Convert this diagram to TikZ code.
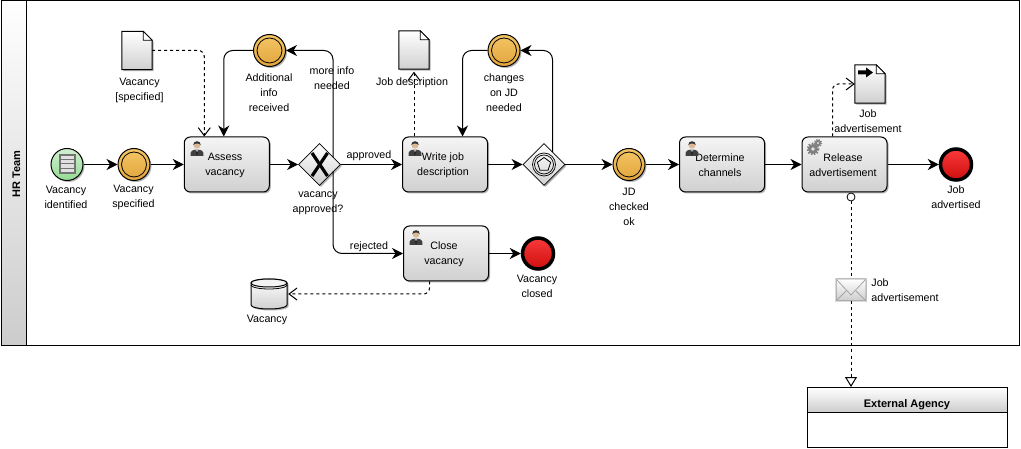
\documentclass[tikz,border=0pt]{standalone}
\usepackage{fontspec}
\setmainfont{Liberation Sans}
\usetikzlibrary{shapes.geometric,arrows.meta,shadows}

\definecolor{boxgray}{HTML}{D0D0D0}
\definecolor{hdrgray}{HTML}{CCCCCC}
\definecolor{catchtop}{HTML}{F4C666}
\definecolor{catchbot}{HTML}{E2A63C}
\definecolor{greentop}{HTML}{D2EFD2}
\definecolor{greenbot}{HTML}{92DC92}
\definecolor{redtop}{HTML}{F93A3A}
\definecolor{redbot}{HTML}{CF0E0E}

\tikzset{
  lbl/.style={align=center,inner sep=0pt,yshift=-.7pt,font=\fontsize{10.7}{15}\selectfont},
  softshadow/.style={drop shadow={shadow xshift=1.5pt,shadow yshift=-1.5pt,fill=black,opacity=.3}},
  task/.style={draw,line width=1pt,rounded corners=6pt,minimum width=85pt,minimum height=55pt,inner sep=0pt,
    top color=white!96!black,bottom color=boxgray,softshadow},
  catchev/.style={circle,draw,line width=1pt,minimum size=32pt,inner sep=0pt,top color=catchtop,bottom color=catchbot,softshadow},
  catchin/.style={circle,draw,line width=.8pt,minimum size=25pt,inner sep=0pt},
  startev/.style={circle,draw,line width=1pt,minimum size=32pt,inner sep=0pt,top color=greentop,bottom color=greenbot,softshadow},
  endev/.style={circle,draw,line width=3.5pt,minimum size=31pt,inner sep=0pt,top color=redtop,bottom color=redbot,softshadow},
  gate/.style={diamond,draw,line width=.8pt,minimum width=42pt,minimum height=42pt,inner sep=0pt,
    top color=white,bottom color=boxgray,softshadow},
  docbox/.style={minimum width=30pt,minimum height=38pt,inner sep=0pt},
  seq/.style={line width=1pt,-{Stealth[length=11pt,width=11pt,inset=3.5pt]},rounded corners=9pt},
  assoc/.style={line width=1pt,dash pattern=on 3pt off 3pt,-{Straight Barb[length=8pt,width=12pt]},rounded corners=6pt},
  msgline/.style={line width=1pt,dash pattern=on 3pt off 3pt},
}

% document with a folded corner
\newcommand{\docicon}[3]{
  \node[docbox] (#1) at (#2,#3) {};
  \draw[line width=1pt,top color=white,bottom color=boxgray,softshadow]
    (#1.north west) -- ([xshift=-9pt]#1.north east) -- ([yshift=-9pt]#1.north east)
    -- (#1.south east) -- (#1.south west) -- cycle;
  \draw[line width=.8pt,fill=white] ([xshift=-9pt]#1.north east) |- ([yshift=-9pt]#1.north east) -- cycle;
}
% event with a second ring
\newcommand{\catchicon}[3]{
  \node[catchev] (#1) at (#2,#3) {};
  \node[catchin] (#1in) at (#1) {};
}
% person in the corner of a task
\newcommand{\usericon}[2]{
  \begin{scope}[shift={(#1,#2)}]
    \fill[black!75] (-6.5,8) .. controls (-7,2) and (-4,2) .. (0,1.5) .. controls (4,2) and (7,2) .. (6.5,8) -- cycle;
    \fill[white!85!black] (-1.5,1.5) -- (1.5,1.5) -- (0,5) -- cycle;
    \fill[black!85] (0,1.8) -- (1,5) -- (0,8) -- (-1,5) -- cycle;
    \fill[brown!55!white] (0,-3) circle (3.6);
    \fill[black!80] (-3.7,-3) .. controls (-4,-8) and (4,-8) .. (3.7,-3) .. controls (2,-5) and (-2,-5) .. (-3.7,-3) -- cycle;
  \end{scope}
}

\begin{document}
\begin{tikzpicture}[x=1pt,y=-1pt]
\useasboundingbox (0,0) rectangle (1021,449);

% HR Team pool
\node[draw,line width=1pt,minimum width=1018pt,minimum height=345pt,inner sep=0pt] (pool) at (510,173.5) {};
\node[draw,line width=1pt,minimum width=25pt,minimum height=345pt,inner sep=0pt,top color=white,bottom color=hdrgray] (poolhdr) at (13.5,173.5) {};
\node[rotate=90,inner sep=0pt,font=\fontsize{11}{13}\selectfont\bfseries] (poolname) at (16.5,174) {HR Team};

% Vacancy identified
\node[startev] (evstart) at (67,164.5) {};
\draw[line width=1.2pt,black!55,fill=white!88!black] (60,155) rectangle (75,173);
\foreach \y in {159.5,164,168.5} \draw[line width=1pt,black!55] (60,\y) -- (75,\y);
\node[lbl] (lblstart) at (66,196.5) {Vacancy\\identified};

% Vacancy specified
\catchicon{evspec}{134}{164.5}
\node[lbl] (lblspec) at (133.5,196.5) {Vacancy\\specified};

% Assess vacancy
\node[task] (assess) at (226.75,164.5) {};
\node[lbl] (txtassess) at (225,164.5) {Assess\\vacancy};
\usericon{197}{148}

\docicon{docspec}{137}{50.5}
\node[lbl] (lbldocspec) at (139.5,89.5) {Vacancy\\{[specified]}};

\catchicon{evinfo}{269.5}{50.5}
\node[lbl] (lblinfo) at (269,92) {Additional\\info\\received};

% Gateway approved
\node[gate] (gwapp) at (319.5,164.5) {};
\draw[line width=3.2pt] (312,153) -- (327.5,176);
\draw[line width=3.2pt] (327.5,153) -- (312,176);
\node[lbl] (lblgw) at (318,203) {vacancy\\approved?};

% Write job description
\node[task] (wjd) at (445,164.5) {};
\node[lbl] (txtwjd) at (443,164.5) {Write job\\description};
\usericon{415}{148}

\docicon{docjd}{414}{50}
\node[lbl] (lbldocjd) at (412,82) {Job description};

\catchicon{evchg}{504}{50.5}
\node[lbl] (lblchg) at (504,92) {changes\\on JD\\needed};

% Gateway changes
\node[gate] (gwjd) at (544,164.5) {};
\node[circle,draw,line width=.7pt,minimum size=23pt,inner sep=0pt] (gwjdout) at (gwjd) {};
\node[circle,draw,line width=.7pt,minimum size=19pt,inner sep=0pt] (gwjdmid) at (gwjd) {};
\node[regular polygon,regular polygon sides=5,draw,line width=.8pt,minimum size=14pt,inner sep=0pt] (gwjdpen) at (gwjd) {};

\catchicon{evjd}{629}{164.5}
\node[lbl] (lbljd) at (629,206) {JD\\checked\\ok};

% Determine channels
\node[task] (channels) at (722,164.5) {};
\node[lbl] (txtchannels) at (720,164.5) {Determine\\channels};
\usericon{692}{148}

% Release advertisement
\node[task] (release) at (844.5,164.5) {};
\node[lbl] (txtrelease) at (843,164.5) {Release\\advertisement};
\fill[black!50] (813,149) circle (5);
\draw[black!50,line width=2pt,dash pattern=on 1.5pt off 1.5pt] (813,149) circle (5.5);
\fill[white!90!black] (813,149) circle (1.8);
\fill[black!50] (818,143) circle (3);
\draw[black!50,line width=1.5pt,dash pattern=on 1.2pt off 1.2pt] (818,143) circle (3.5);
\fill[white!90!black] (818,143) circle (1.2);
\node[circle,draw,line width=.8pt,fill=white,minimum size=8pt,inner sep=0pt] (attach) at (851,197) {};

\docicon{docad}{870}{84}
\fill (858,70.5) -- (866,70.5) -- (866,67.5) -- (873,72.5) -- (866,77.5) -- (866,74.5) -- (858,74.5) -- cycle;
\node[lbl] (lbldocad) at (868,120.5) {Job\\advertisement};

\node[endev] (endad) at (956,164.5) {};
\node[lbl] (lblendad) at (956,196.5) {Job\\advertised};

% Close vacancy
\node[task] (close) at (446,253.5) {};
\node[lbl] (txtclose) at (444,253.5) {Close\\vacancy};
\usericon{416}{237}
\node[endev] (endclose) at (538,253.5) {};
\node[lbl] (lblendclose) at (537,285.5) {Vacancy\\closed};

% Vacancy store
\node[minimum width=36pt,minimum height=30pt,inner sep=0pt] (store) at (269,294) {};
\draw[line width=1pt,top color=white,bottom color=boxgray,softshadow]
  (251,283) -- (251,305) arc[start angle=180,end angle=0,x radius=18,y radius=4]
  -- (287,283) arc[start angle=0,end angle=-180,x radius=18,y radius=4];
\draw[line width=1pt,fill=white!95!black] (269,283) ellipse[x radius=18,y radius=4];
\draw[line width=.8pt] (251,285) arc[start angle=180,end angle=0,x radius=18,y radius=4];
\node[lbl] (lblstore) at (267,319) {Vacancy};

% External Agency pool
\node[draw,line width=1pt,minimum width=200pt,minimum height=60pt,inner sep=0pt] (extpool) at (907,417.5) {};
\node[draw,line width=1pt,minimum width=200pt,minimum height=25pt,inner sep=0pt,top color=white,bottom color=hdrgray] (exthdr) at (907,400) {};
\node[inner sep=0pt,font=\fontsize{11}{13}\selectfont\bfseries] (extname) at (907,404.5) {External Agency};

% message
\node[rounded corners=1pt,draw=black!40,line width=1pt,minimum width=30pt,minimum height=22pt,inner sep=0pt,top color=white,bottom color=white!80!black] (msg) at (851,290) {};
\draw[black!35,line width=.8pt] (msg.north west) -- (851,295) -- (msg.north east);
\draw[black!35,line width=.8pt] (msg.south west) -- (846,291) (msg.south east) -- (856,291);
\node[lbl,align=left] (lblmsg) at (905,289.5) {Job\\advertisement};

% sequence flows
\draw[seq] (evstart) -- (evspec);
\draw[seq] (evspec) -- (assess);
\draw[seq] (assess) -- (gwapp);
\draw[seq] (evinfo) -| ([xshift=-3pt]assess.north);
\draw[seq] ([xshift=13.5pt,yshift=7pt]gwapp.center) |- (evinfo);
\draw[seq] ([xshift=13.5pt,yshift=-7pt]gwapp.center) |- (close);
\draw[seq] (gwapp) -- (wjd);
\draw[seq] (wjd) -- (gwjd);
\draw[seq] (evchg) -| ([xshift=17.5pt]wjd.north);
\draw[seq] ([xshift=8.5pt,yshift=12.5pt]gwjd.center) |- (evchg);
\draw[seq] (gwjd) -- (evjd);
\draw[seq] (evjd) -- (channels);
\draw[seq] (channels) -- (release);
\draw[seq] (release) -- (endad);
\draw[seq] (close) -- (endclose);

\node[lbl] (lblmore) at (332,77) {more info\\needed};
\node[lbl] (lblok) at (369,155) {approved};
\node[lbl] (lblno) at (369,246) {rejected};

% associations
\draw[assoc] (docspec.east) -| ([xshift=-22.5pt]assess.north);
\draw[assoc] ([xshift=-31pt]wjd.north) -- ([yshift=-2.5pt]docjd.south);
\draw[assoc] ([xshift=-12pt]release.north) |- (docad.west);
\draw[assoc] ([xshift=-16.5pt]close.south) |- ([xshift=1pt]store.east);

% message flow
\draw[msgline] (attach.south) -- (msg.north);
\draw[msgline,-{Triangle[open,fill=white,length=10pt,width=12pt]}] (msg.south) -- (msg.south |- exthdr.north);

\end{tikzpicture}
\end{document}
